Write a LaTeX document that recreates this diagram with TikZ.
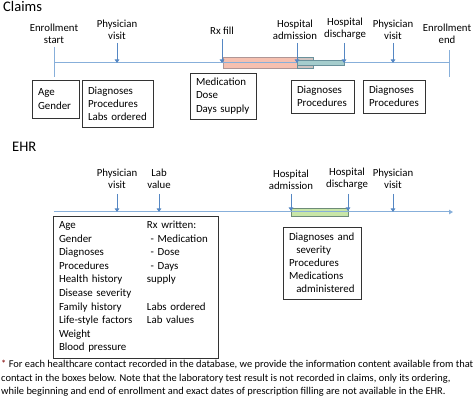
\documentclass[tikz,border=0pt]{standalone}
\usepackage{fontspec}
\setmainfont{Carlito}
\usetikzlibrary{positioning, arrows.meta, calc}
\definecolor{axis}{RGB}{135,175,218}
\definecolor{tick}{RGB}{85,135,195}
\definecolor{rxfill}{RGB}{246,192,176}
\definecolor{rxline}{RGB}{175,150,150}
\definecolor{hospfill}{RGB}{165,205,205}
\definecolor{hospline}{RGB}{105,145,155}
\definecolor{stayfill}{RGB}{200,230,168}
\definecolor{stayline}{RGB}{110,140,120}

\begin{document}
\begin{tikzpicture}[
  x=1pt, y=-1pt,
  font=\fontsize{10.8}{12.6}\selectfont,
  title/.style={anchor=base west, inner sep=0pt, font=\fontsize{14.6}{16}\selectfont},
  evt/.style={align=center, inner sep=0pt, anchor=south},
  info/.style={rectangle, draw=black!80, line width=0.8pt, align=left,
               inner xsep=6pt, inner ysep=0pt,
               execute at begin node={\hyphenpenalty=10000\exhyphenpenalty=10000},
               font=\fontsize{10.9}{13.1}\selectfont},
  tline/.style={draw=axis, line width=1pt},
  hit/.style={-{Triangle[length=3.5pt,width=4.5pt]}, tick, line width=0.8pt},
  note/.style={anchor=north west, align=left, inner sep=0pt,
               font=\fontsize{10.45}{13.5}\selectfont},
]
\useasboundingbox (0,0) rectangle (474,403);

% ---------------- claims
\node[title] (claims) at (3,12) {Claims};

\coordinate (c0) at (54,63);
\coordinate (c1) at (449,63);

% dispensing and stay bars
\draw[rxline, fill=rxfill, line width=0.6pt] (223,57) rectangle (313,68);
\draw[tline] (c0) -- (c1);
\draw[hospline, fill=gray!45, fill opacity=0.8, line width=0.6pt] (297,57) rectangle (313,68);
\draw[hospline, fill=hospfill, line width=0.6pt] (297,60) rectangle (344,65);

\draw[tline] (54,47) -- (54,77);
\draw[tline] (449,50) -- (449,77);

\node[evt] (cstart) at (54,44) {Enrollment\\start};
\node[evt] (cvis1) at (117,40) {Physician\\visit};
\node[evt] (crx) at (222,35) {Rx fill};
\node[evt] (cadm) at (295,40) {Hospital\\admission};
\node[evt] (cdis) at (345,40) {Hospital\\discharge};
\node[evt] (cvis2) at (393,40) {Physician\\visit};
\node[evt] (cend) at (447,44) {Enrollment\\end};

\draw[hit] (cvis1.south) ++(0,3) -- (117,63);
\draw[hit] (crx.south) ++(0,4) -- (222,63);
\draw[hit] (cadm.south |- 0,43) ++(2,0) -- (297,63);
\draw[hit] (cdis.south |- 0,43) ++(-1,0) -- (344,63);
\draw[hit] (cvis2.south) ++(0,3) -- (393,63);

\node[info, minimum width=47pt, minimum height=38pt, text width=35pt] (cdemo) at (55.5,99) {Age\\Gender};
\node[info, minimum width=71pt, minimum height=47pt, text width=59pt] (cphys) at (117.5,103.5) {Diagnoses\\Procedures\\Labs ordered};
\node[info, minimum width=66pt, minimum height=46pt, text width=54pt, inner xsep=6pt] (crxbox) at (223,96) {Medication\\Dose\\Days supply};
\node[info, minimum width=63pt, minimum height=33pt, text width=51pt] (chosp) at (322.5,96.5) {Diagnoses\\Procedures};
\node[info, minimum width=62pt, minimum height=33pt, text width=50pt] (cphys2) at (394,96.5) {Diagnoses\\Procedures};

% ---------------- EHR
\node[title] (ehr) at (12,152) {EHR};

\coordinate (e0) at (54,212);
\coordinate (e1) at (453,212);
\draw[stayline, fill=stayfill, line width=0.6pt] (291,208) rectangle (348,216);
\draw[tline, -{Triangle[length=4pt,width=4.5pt]}] (e0) -- (e1);

\node[evt] (evis1) at (117,189) {Physician\\visit};
\node[evt] (elab) at (159,189) {Lab\\value};
\node[evt] (eadm) at (291,190) {Hospital\\admission};
\node[evt] (edis) at (347,190) {Hospital\\discharge};
\node[evt] (evis2) at (393,189) {Physician\\visit};

\draw[hit] (evis1.south) ++(0,5) -- (117,212);
\draw[hit] (elab.south) ++(0,5) -- (159,212);
\draw[hit] (eadm.south) ++(0,4) -- (291,211);
\draw[hit] (edis.south) ++(1,4) -- (348,211);
\draw[hit] (evis2.south) ++(0,5) -- (393,212);

\node[info, minimum width=165pt, minimum height=142pt, text width=153pt] (erec) at (135.5,287)
  {\fontsize{10.9}{13.6}\selectfont
   \begin{tabular}{@{}p{88pt}@{}l@{}}
   Age & Rx written:\\
   Gender & \ - Medication\\
   Diagnoses & \ - Dose\\
   Procedures & \ - Days\\
   Health history & supply\\
   Disease severity & \\
   Family history & Labs ordered\\
   Life-style factors & Lab values\\
   Weight & \\
   Blood pressure &
   \end{tabular}};
\node[info, minimum width=78pt, minimum height=72pt, text width=66pt] (estay) at (322,263)
  {Diagnoses and\\\ \ severity\\Procedures\\Medications\\\ \ administered};

% ---------------- footnote
\node[note] (foot) at (1,360)
  {\textcolor{red!50!black}{*} For each healthcare contact recorded in the database, we provide the information content available from that\\
   contact in the boxes below. Note that the laboratory test result is not recorded in claims, only its ordering,\\
   while beginning and end of enrollment and exact dates of prescription filling are not available in the EHR.};
\end{tikzpicture}
\end{document}
